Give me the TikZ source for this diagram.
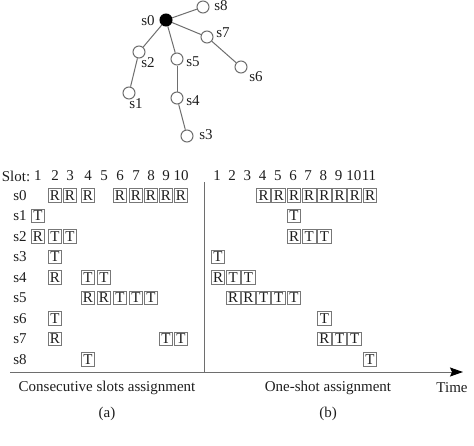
\documentclass[tikz,border=0pt]{standalone}
\usepackage{fontspec}
\setmainfont{Liberation Serif}
\usepackage{tikz}
\usetikzlibrary{arrows.meta}
\definecolor{edgegray}{HTML}{6E6E6E}
\definecolor{boxgray}{HTML}{777777}
\definecolor{inkgray}{HTML}{1E1E1E}

\tikzset{
  sensor/.style={circle, draw=edgegray, fill=white, line width=1pt, minimum size=12pt, inner sep=0pt},
  sink/.style={sensor, fill=black, draw=black},
  lbl/.style={text=inkgray, font=\fontsize{15}{17}\selectfont, inner sep=0pt},
  slotbox/.style={lbl, draw=boxgray, line width=1.1pt, minimum width=13.8pt, minimum height=13.2pt},
  link/.style={draw=edgegray, line width=1pt}
}

\begin{document}
\begin{tikzpicture}[x=1pt, y=-1pt, >=Stealth]
  \useasboundingbox (0,0) rectangle (474,445);

  % --- Tree ---
  \node[sink]   (s0) at (166,20) {};
  \node[sensor] (s8) at (203,7) {};
  \node[sensor] (s7) at (207,37) {};
  \node[sensor] (s6) at (241,67) {};
  \node[sensor] (s2) at (139,52) {};
  \node[sensor] (s5) at (177,59) {};
  \node[sensor] (s1) at (129,93) {};
  \node[sensor] (s4) at (177,98) {};
  \node[sensor] (s3) at (187,136) {};
  \foreach \a/\b in {s0/s8, s0/s7, s7/s6, s0/s2, s2/s1, s0/s5, s5/s4, s4/s3}
    \draw[link] (\a) -- (\b);

  \node[lbl] (l0) at (148,21) {s0};
  \node[lbl] (l8) at (221,6) {s8};
  \node[lbl] (l7) at (223,33) {s7};
  \node[lbl] (l6) at (256,77) {s6};
  \node[lbl] (l2) at (148,63) {s2};
  \node[lbl] (l5) at (193,62) {s5};
  \node[lbl] (l1) at (136,104) {s1};
  \node[lbl] (l4) at (193,101) {s4};
  \node[lbl] (l3) at (206,135) {s3};

  % --- Slot headers and rows ---
  \node[lbl] (slot) at (16,176) {Slot:};
  \foreach \x [count=\n] in {38,55,70,88,104,120,136,151,166,181}
    \node[lbl] (na\n) at (\x,176) {\n};
  \foreach \n in {1,...,11}
    \node[lbl] (nb\n) at ({217+15.2*(\n-1)},176) {\n};
  \foreach \r in {0,...,8}
    \node[lbl] (row\r) at (20,{195.5+20.5*\r}) {s\r};

  % --- (a) consecutive slots ---
  \foreach \r/\c/\l in {0/2/R,0/3/R,0/4/R,0/6/R,0/7/R,0/8/R,0/9/R,0/10/R,
                        1/1/T, 2/1/R,2/2/T,2/3/T, 3/2/T, 4/2/R,4/4/T,4/5/T,
                        5/4/R,5/5/R,5/6/T,5/7/T,5/8/T, 6/2/T, 7/2/R,7/9/T,7/10/T, 8/4/T} {
    \pgfmathsetmacro{\xa}{{38,55,70,88,104,120,136,151,166,181}[\c-1]}
    \node[slotbox] (a-\r-\c) at (\xa,{195.5+20.5*\r}) {\l};
  }

  % --- (b) one-shot ---
  \foreach \r/\c/\l in {0/4/R,0/5/R,0/6/R,0/7/R,0/8/R,0/9/R,0/10/R,0/11/R,
                        1/6/T, 2/6/R,2/7/T,2/8/T, 3/1/T, 4/1/R,4/2/T,4/3/T,
                        5/2/R,5/3/R,5/4/T,5/5/T,5/6/T, 6/8/T, 7/8/R,7/9/T,7/10/T, 8/11/T}
    \node[slotbox] (b-\r-\c) at ({218+15.2*(\c-1)},{195.5+20.5*\r}) {\l};

  % --- Divider and time axis ---
  \coordinate (divtop) at (204,182);
  \coordinate (divbot) at (204,372);
  \coordinate (axstart) at (10,372);
  \coordinate (axend) at (463,372);
  \draw[link] (divtop) -- (divbot);
  \draw[link, -{Stealth[length=13pt, width=9pt, inset=2pt, color=black]}] (axstart) -- (axend);

  \node[lbl] (capa) at (107,388) {Consecutive slots assignment};
  \node[lbl] (capb) at (328,388) {One-shot assignment};
  \node[lbl] (time) at (452,388) {Time};
  \node[lbl] (taga) at (107,414) {(a)};
  \node[lbl] (tagb) at (328,414) {(b)};
\end{tikzpicture}
\end{document}
